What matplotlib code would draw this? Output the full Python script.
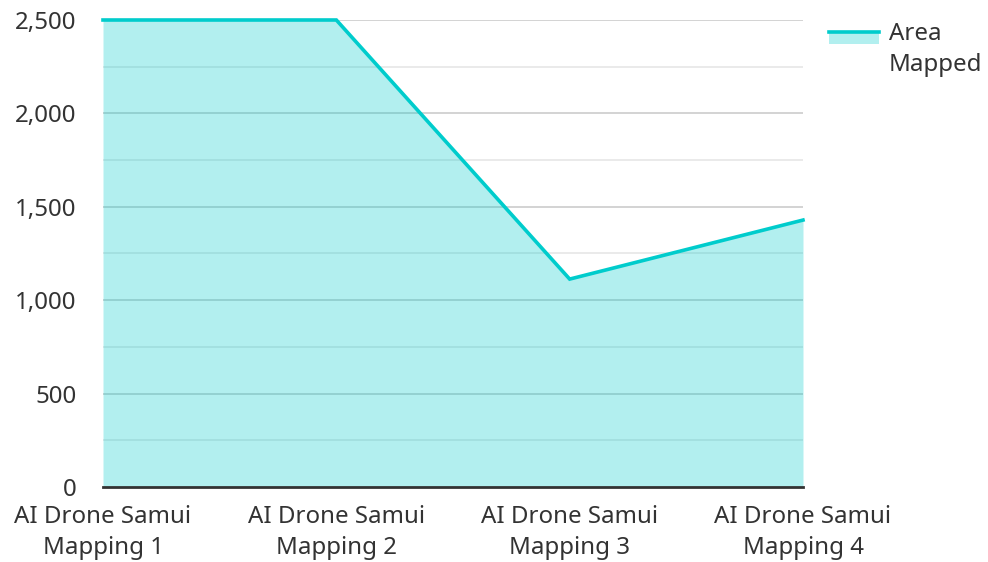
import matplotlib.pyplot as plt
from matplotlib.lines import Line2D
from matplotlib.patches import Rectangle

plt.rcParams['font.family'] = ['Noto Sans', 'DejaVu Sans']

# Data
categories = ["AI Drone Samui\nMapping 1", "AI Drone Samui\nMapping 2",
              "AI Drone Samui\nMapping 3", "AI Drone Samui\nMapping 4"]
area_mapped = [2500, 2500, 1113, 1429]
y_ticks = [0, 500, 1000, 1500, 2000, 2500]
y_tick_labels = ["0", "500", "1,000", "1,500", "2,000", "2,500"]
minor_ticks = [250, 750, 1250, 1750, 2250]

line_color = '#00cccc'
fill_color = '#00cccc'
text_color = '#333333'
fs = 17.3

fig = plt.figure(figsize=(9.88, 5.62), dpi=100)
ax = fig.add_axes([103 / 988, 1 - 487 / 562, 700 / 988, 467 / 562])

x = list(range(len(categories)))

# grid first, then translucent fill over it
for t in y_ticks[1:]:
    ax.axhline(t, color='#cccccc', lw=1.2, zorder=1)
for t in minor_ticks:
    ax.axhline(t, color='#e6e6e6', lw=1.2, zorder=1)

ax.fill_between(x, area_mapped, 0, color=fill_color, alpha=0.3, lw=0, zorder=2)
ax.plot(x, area_mapped, color=line_color, lw=2.6, zorder=3,
        solid_joinstyle='miter', clip_on=False)

ax.set_xlim(0, len(categories) - 1)
ax.set_ylim(0, 2500)
ax.set_xticks(x)
ax.set_xticklabels(categories, fontsize=fs, color=text_color, linespacing=1.4)
ax.set_yticks(y_ticks)
ax.set_yticklabels(y_tick_labels, fontsize=fs, color=text_color)
ax.tick_params(axis='both', length=0)
ax.tick_params(axis='y', pad=19)
ax.tick_params(axis='x', pad=13)

for s in ['top', 'right', 'left']:
    ax.spines[s].set_visible(False)
ax.spines['bottom'].set_color('#333333')
ax.spines['bottom'].set_linewidth(2)
ax.spines['bottom'].set_zorder(4)

# legend drawn by hand
fig.add_artist(Rectangle((829 / 988, 1 - 44 / 562), 50 / 988, 13 / 562,
                         transform=fig.transFigure, facecolor=fill_color,
                         alpha=0.3, lw=0))
fig.add_artist(Line2D([829 / 988, 879 / 988], [1 - 32 / 562, 1 - 32 / 562],
                      transform=fig.transFigure, color=line_color, lw=2.6))
fig.text(889 / 988, 1 - 34 / 562, "Area", fontsize=fs, color=text_color,
         va='center', ha='left')
fig.text(889 / 988, 1 - 65 / 562, "Mapped", fontsize=fs, color=text_color,
         va='center', ha='left')

fig.savefig('out.png', dpi=100)
